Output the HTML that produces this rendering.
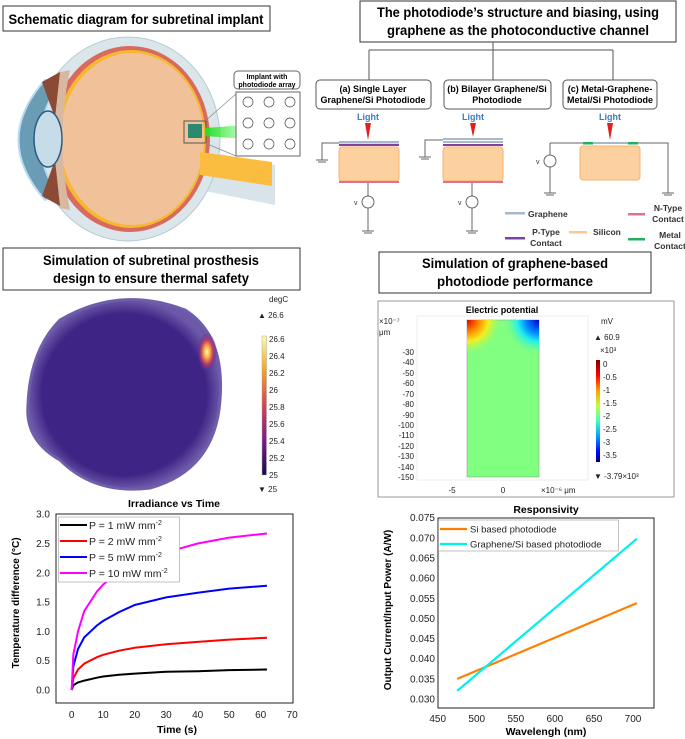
<!DOCTYPE html>
<html><head><meta charset="utf-8"><style>
html,body{margin:0;padding:0;background:#fff;}
svg{display:block;font-family:"Liberation Sans",sans-serif;}
.b{font-weight:bold;}
</style></head><body>
<svg id="fig" width="685" height="739" viewBox="0 0 685 739" xmlns="http://www.w3.org/2000/svg">
<defs>
<radialGradient id="hot" cx="0.5" cy="0.5" r="0.5"><stop offset="0" stop-color="#fff7c0"/><stop offset="0.3" stop-color="#f5b040"/><stop offset="0.6" stop-color="#c03a6a"/><stop offset="1" stop-color="#4a2a8a" stop-opacity="0"/></radialGradient>
<radialGradient id="blob" cx="0.5" cy="0.5" r="0.5"><stop offset="0.85" stop-color="#3e2485"/><stop offset="1" stop-color="#6b58a8"/></radialGradient>
<radialGradient id="redc" cx="0" cy="0" r="1"><stop offset="0" stop-color="#e00000"/><stop offset="0.35" stop-color="#ff9000"/><stop offset="0.6" stop-color="#f0f020"/><stop offset="1" stop-color="#80ff80" stop-opacity="0"/></radialGradient>
<radialGradient id="bluec" cx="1" cy="0" r="1"><stop offset="0" stop-color="#0000c8"/><stop offset="0.35" stop-color="#0080ff"/><stop offset="0.6" stop-color="#20f0f0"/><stop offset="1" stop-color="#80ff80" stop-opacity="0"/></radialGradient>
<linearGradient id="jet" x1="0" y1="0" x2="0" y2="1"><stop offset="0" stop-color="#800000"/><stop offset="0.15" stop-color="#ff0000"/><stop offset="0.3" stop-color="#ffa000"/><stop offset="0.45" stop-color="#c0ff40"/><stop offset="0.6" stop-color="#40ffc0"/><stop offset="0.75" stop-color="#00a0ff"/><stop offset="0.9" stop-color="#0000ff"/><stop offset="1" stop-color="#000080"/></linearGradient>
<linearGradient id="inferno" x1="0" y1="0" x2="0" y2="1"><stop offset="0" stop-color="#fcffa4"/><stop offset="0.25" stop-color="#f5a020"/><stop offset="0.5" stop-color="#d64050"/><stop offset="0.75" stop-color="#7a1c8a"/><stop offset="1" stop-color="#1a0a4a"/></linearGradient>
<linearGradient id="beam" x1="0" y1="0" x2="1" y2="0"><stop offset="0" stop-color="#20e020"/><stop offset="1" stop-color="#80ff80" stop-opacity="0.2"/></linearGradient>
</defs>

<!-- Panel 1: eye schematic -->
<g>
<rect x="3" y="6" width="267" height="25" fill="#fff" stroke="#333"/>
<text x="136" y="24" text-anchor="middle" font-size="14" class="b" textLength="255" lengthAdjust="spacingAndGlyphs">Schematic diagram for subretinal implant</text>
<path d="M200,150 L275,165 L275,205 L200,190 Z" fill="#d8e4ea"/>
<ellipse cx="128" cy="139" rx="92" ry="102" fill="#dbe6ea" stroke="#b8cad2"/>
<path d="M45,80 Q-8,140 45,200 L58,195 Q22,140 58,86 Z" fill="#6a9cb5" stroke="#b8dcef" stroke-width="2"/>
<ellipse cx="130" cy="139" rx="80" ry="93" fill="#d96a5e"/>
<ellipse cx="131" cy="139" rx="75" ry="89" fill="#f5b830"/>
<ellipse cx="132" cy="139" rx="72" ry="86" fill="#f1c29a"/>
<path d="M70,70 Q55,140 70,210 L60,208 Q45,140 60,72 Z" fill="#d8b8a0"/>
<path d="M42,82 L60,72 L55,118 Z M42,196 L60,206 L55,160 Z" fill="#8a4a35"/>
<ellipse cx="48" cy="139" rx="14" ry="28" fill="#c6dce8" stroke="#2e5a80" stroke-width="1.5"/>
<path d="M200,152 L272,162 L272,186 L200,175 Z" fill="#fbbd40"/>
<rect x="184" y="121" width="22" height="22" fill="none" stroke="#555"/>
<rect x="188" y="124" width="14" height="14" fill="#2a8a70"/>
<polygon points="205,128 258,124 258,140 205,136" fill="url(#beam)"/>
<line x1="205" y1="121" x2="236" y2="94" stroke="#888" stroke-width="0.7"/><line x1="205" y1="143" x2="236" y2="156" stroke="#888" stroke-width="0.7"/>
<rect x="236" y="92" width="64" height="64" fill="#fff" stroke="#666"/>
<rect x="234" y="71" width="66" height="18" rx="4" fill="#fff" stroke="#666"/>
<text x="267" y="79" text-anchor="middle" font-size="7" class="b">Implant with</text>
<text x="267" y="87" text-anchor="middle" font-size="7" class="b">photodiode array</text>
<g fill="none" stroke="#444" stroke-width="0.7">
<circle cx="248" cy="102" r="5"/><circle cx="269" cy="102" r="5"/><circle cx="290" cy="102" r="5"/>
<circle cx="248" cy="123" r="5"/><circle cx="269" cy="123" r="5"/><circle cx="290" cy="123" r="5"/>
<circle cx="248" cy="144" r="5"/><circle cx="269" cy="144" r="5"/><circle cx="290" cy="144" r="5"/>
</g>
</g>

<!-- Panel 2: photodiode structures -->
<g>
<rect x="360" y="1" width="316" height="41" fill="#fff" stroke="#333"/>
<text x="518" y="17" text-anchor="middle" font-size="14" class="b" textLength="282" lengthAdjust="spacingAndGlyphs">The photodiode’s structure and biasing, using</text>
<text x="518" y="35" text-anchor="middle" font-size="14" class="b" textLength="262" lengthAdjust="spacingAndGlyphs">graphene as the photoconductive channel</text>
<path d="M493,42 V50 M369,50 H613 M369,50 V80 M493,50 V80 M613,50 V80" stroke="#555" fill="none"/>
<g font-size="9" class="b" text-anchor="middle">
<rect x="316" y="80" width="115" height="29" rx="4" fill="#fff" stroke="#555"/>
<text x="373" y="92">(a) Single Layer</text><text x="373" y="103">Graphene/Si Photodiode</text>
<rect x="444" y="80" width="107" height="29" rx="4" fill="#fff" stroke="#555"/>
<text x="497" y="92">(b) Bilayer Graphene/Si</text><text x="497" y="103">Photodiode</text>
<rect x="563" y="80" width="94" height="29" rx="4" fill="#fff" stroke="#555"/>
<text x="610" y="92">(c) Metal-Graphene-</text><text x="610" y="103">Metal/Si Photodiode</text>
<g fill="#3a7cc0"><text x="368" y="120">Light</text><text x="473" y="120">Light</text><text x="610" y="120">Light</text></g>
</g>
<g fill="#e02020"><polygon points="365,123 371,123 368,140"/><polygon points="470,123 476,123 473,137"/><polygon points="607,123 613,123 610,140"/></g>
<g stroke="#666" fill="none" stroke-width="1">
<path d="M339,143 H322 V160 M316,160 H328 M318,162 H326"/>
<path d="M368,183 V196 M368,208 V231 M362,231 H374 M364,233 H372"/><circle cx="368" cy="202" r="6"/>
<path d="M443,140 H425 V157 M419,157 H431 M421,159 H429"/>
<path d="M472,183 V196 M472,208 V231 M466,231 H478 M468,233 H476"/><circle cx="472" cy="202" r="6"/>
<path d="M550,143 H668 V193 M662,193 H674 M664,195 H672 M550,143 V155 M550,167 V193 M544,193 H556 M546,195 H554"/><circle cx="550" cy="161" r="6"/>
</g>
<g font-size="7" fill="#333"><text x="354" y="205">v</text><text x="458" y="205">v</text><text x="536" y="164">v</text></g>
<rect x="339" y="147" width="60" height="34" rx="3" fill="#fdd0a0" stroke="#f5b070"/>
<rect x="339" y="141" width="60" height="2.5" fill="#a8b8cc"/><rect x="339" y="144" width="60" height="2" fill="#8040a0"/><rect x="339" y="181" width="60" height="2" fill="#e07090"/>
<rect x="443" y="147" width="60" height="34" rx="3" fill="#fdd0a0" stroke="#f5b070"/>
<rect x="443" y="138" width="60" height="2" fill="#a8b8cc"/><rect x="443" y="141" width="60" height="2" fill="#a8b8cc"/><rect x="443" y="144" width="60" height="2" fill="#8040a0"/><rect x="443" y="181" width="60" height="2" fill="#e07090"/>
<rect x="580" y="146" width="60" height="34" rx="3" fill="#fdd0a0" stroke="#f5b070"/>
<rect x="583" y="142" width="51" height="2" fill="#a8b8cc"/><rect x="583" y="142" width="10" height="2.5" fill="#20b060"/><rect x="628" y="142" width="10" height="2.5" fill="#20b060"/>
<g font-size="8.5" class="b" fill="#333">
<rect x="505" y="212" width="20" height="2.5" fill="#a8b8cc"/><text x="528" y="217">Graphene</text>
<rect x="505" y="237" width="20" height="2.5" fill="#8040a0"/><text x="546" y="235" text-anchor="middle">P-Type</text><text x="546" y="246" text-anchor="middle">Contact</text>
<rect x="569" y="231" width="18" height="2.5" fill="#fdc890"/><text x="593" y="235">Silicon</text>
<rect x="628" y="213" width="17" height="2.5" fill="#e07090"/><text x="668" y="211" text-anchor="middle">N-Type</text><text x="668" y="222" text-anchor="middle">Contact</text>
<rect x="628" y="238" width="17" height="2.5" fill="#20b060"/><text x="670" y="238" text-anchor="middle">Metal</text><text x="670" y="249" text-anchor="middle">Contact</text>
</g>
</g>

<!-- Panel 3: thermal simulation -->
<g>
<rect x="3" y="248" width="297" height="42" fill="#fff" stroke="#333"/>
<text x="151" y="265" text-anchor="middle" font-size="13.5" class="b" textLength="216" lengthAdjust="spacingAndGlyphs">Simulation of subretinal prosthesis</text>
<text x="151" y="283" text-anchor="middle" font-size="13.5" class="b" textLength="196" lengthAdjust="spacingAndGlyphs">design to ensure thermal safety</text>
<path d="M60,320 Q120,285 185,310 Q225,335 220,400 Q215,470 150,488 Q95,495 60,460 Q25,440 28,405 Q30,350 60,320 Z" fill="url(#blob)" stroke="#6f5eaa" stroke-width="3"/>
<ellipse cx="207" cy="352" rx="10" ry="20" fill="url(#hot)"/>
<rect x="262" y="336" width="4.5" height="139" fill="url(#inferno)" stroke="#aaa" stroke-width="0.5"/>
<g font-size="8" fill="#222">
<text x="269" y="302">degC</text><text x="258" y="318">▲ 26.6</text>
<text x="269" y="342">26.6</text><text x="269" y="359">26.4</text><text x="269" y="376">26.2</text><text x="269" y="393">26</text><text x="269" y="410">25.8</text><text x="269" y="427">25.6</text><text x="269" y="444">25.4</text><text x="269" y="461">25.2</text><text x="269" y="478">25</text>
<text x="258" y="492">▼ 25</text></g>
</g>

<!-- Panel 4: electric potential -->
<g>
<rect x="379" y="252" width="272" height="41" fill="#fff" stroke="#333"/>
<text x="515" y="268" text-anchor="middle" font-size="13.5" class="b" textLength="186" lengthAdjust="spacingAndGlyphs">Simulation of graphene-based</text>
<text x="515" y="286" text-anchor="middle" font-size="13.5" class="b" textLength="156" lengthAdjust="spacingAndGlyphs">photodiode performance</text>
<rect x="378" y="301" width="296" height="196" fill="#fff" stroke="#999"/>
<text x="502" y="313" text-anchor="middle" font-size="9" class="b">Electric potential</text>
<rect x="417" y="316" width="171" height="164" fill="#fff" stroke="#ddd" stroke-width="0.5"/>
<rect x="467" y="320" width="72" height="157" fill="#80ff80" stroke="#888" stroke-width="0.5"/>
<rect x="467" y="320" width="36" height="36" fill="url(#redc)"/>
<rect x="503" y="320" width="36" height="36" fill="url(#bluec)"/>
<g font-size="8" fill="#222" text-anchor="end">
<text x="414" y="355">-30</text><text x="414" y="365">-40</text><text x="414" y="376">-50</text><text x="414" y="386">-60</text><text x="414" y="397">-70</text><text x="414" y="407">-80</text><text x="414" y="418">-90</text><text x="414" y="428">-100</text><text x="414" y="438">-110</text><text x="414" y="449">-120</text><text x="414" y="459">-130</text><text x="414" y="470">-140</text><text x="414" y="480">-150</text></g>
<g font-size="8" fill="#222"><text x="379" y="324">×10⁻⁷</text><text x="379" y="335">μm</text>
<text x="452" y="493" text-anchor="middle">-5</text><text x="503" y="493" text-anchor="middle">0</text><text x="541" y="493">×10⁻⁶ μm</text>
<text x="601" y="324">mV</text><text x="594" y="340">▲ 60.9</text><text x="600" y="353">×10³</text>
<text x="603" y="367">0</text><text x="603" y="380">-0.5</text><text x="603" y="393">-1</text><text x="603" y="406">-1.5</text><text x="603" y="419">-2</text><text x="603" y="432">-2.5</text><text x="603" y="445">-3</text><text x="603" y="458">-3.5</text>
<text x="594" y="479">▼ -3.79×10³</text></g>
<rect x="596" y="360" width="4" height="102" fill="url(#jet)"/>
</g>

<!-- Panel 5: irradiance vs time -->
<g id="chart1">
<text x="174" y="507" text-anchor="middle" font-size="10.5" class="b">Irradiance vs Time</text>
<rect x="56" y="514" width="237" height="189" fill="#fff" stroke="#222"/>
<text transform="translate(19,603) rotate(-90)" text-anchor="middle" font-size="10" class="b">Temperature difference (°C)</text>
<text x="177" y="733" text-anchor="middle" font-size="10.5" class="b">Time (s)</text>
</g>

<!-- Panel 6: responsivity -->
<g id="chart2">
<text x="546" y="513" text-anchor="middle" font-size="10.5" class="b">Responsivity</text>
<rect x="438" y="518" width="216" height="190" fill="#fff" stroke="#222"/>
<text transform="translate(391,610) rotate(-90)" text-anchor="middle" font-size="10" class="b">Output Current/Input Power (A/W)</text>
<text x="546" y="735" text-anchor="middle" font-size="10.5" class="b">Wavelengh (nm)</text>
</g>
</svg>
<script>
// ---- Chart 1 data ----
const timeS = [0, 0.5, 2, 4, 8, 10, 15, 20, 30, 40, 50, 62];
const p1 = [0, 0.08, 0.13, 0.16, 0.21, 0.23, 0.26, 0.28, 0.31, 0.32, 0.34, 0.35];
const p2 = [0, 0.2, 0.35, 0.45, 0.56, 0.6, 0.67, 0.72, 0.78, 0.82, 0.86, 0.89];
const p5 = [0, 0.4, 0.7, 0.9, 1.1, 1.18, 1.33, 1.45, 1.58, 1.66, 1.73, 1.78];
const p10 = [0, 0.6, 1.0, 1.35, 1.68, 1.8, 2.0, 2.15, 2.35, 2.5, 2.6, 2.67];
const seriesLabels1 = ["P = 1 mW mm", "P = 2 mW mm", "P = 5 mW mm", "P = 10 mW mm"];
const xTicks1 = [0, 10, 20, 30, 40, 50, 60, 70];
const yTicks1 = [0.0, 0.5, 1.0, 1.5, 2.0, 2.5, 3.0];
// ---- Chart 2 data ----
const wavelength = [475, 705];
const siResp = [0.035, 0.0538];
const grResp = [0.032, 0.0698];
const seriesLabels2 = ["Si based photodiode", "Graphene/Si based photodiode"];
const xTicks2 = [450, 500, 550, 600, 650, 700];
const yTicks2 = [0.030, 0.035, 0.040, 0.045, 0.050, 0.055, 0.060, 0.065, 0.070, 0.075];

const NS = "http://www.w3.org/2000/svg";
function mk(parent, tag, attrs, txt) {
  const e = document.createElementNS(NS, tag);
  for (const k in attrs) e.setAttribute(k, attrs[k]);
  if (txt !== undefined) e.textContent = txt;
  parent.appendChild(e);
  return e;
}
const x1 = t => 71.7 + t * 3.15;
const y1 = v => 690 - v * 58.6;
const c1 = document.getElementById("chart1");
xTicks1.forEach(t => {
  const tl = mk(c1, "text", {x: x1(t), y: 718, "text-anchor": "middle", "font-size": 10, fill: "#222"}, String(t));
  
  
});
yTicks1.forEach(v => {
  const tl = mk(c1, "text", {x: 50, y: y1(v) + 3.5, "text-anchor": "end", "font-size": 10, fill: "#222"}, v.toFixed(1));
  
  
});
const cols1 = ["#000000", "#ff0000", "#0000ff", "#ff00ff"];
const data1 = [p1, p2, p5, p10];
data1.forEach((s, i) => {
  const d = s.map((v, j) => (j ? "L" : "M") + x1(timeS[j]).toFixed(1) + "," + y1(v).toFixed(1)).join(" ");
  const ln = mk(c1, "path", {d: d, fill: "none", stroke: cols1[i], "stroke-width": 2});
  
  
});
const lg1 = mk(c1, "g", {});


mk(lg1, "rect", {x: 58.5, y: 517, width: 121, height: 65, fill: "#fff", stroke: "#aaa", "stroke-width": 0.7});
seriesLabels1.forEach((lab, i) => {
  const yy = 525 + i * 16;
  mk(lg1, "line", {x1: 60, y1: yy, x2: 87, y2: yy, stroke: cols1[i], "stroke-width": 2});
  const t = mk(lg1, "text", {x: 89, y: yy + 4, "font-size": 10.5, fill: "#222"}, lab);
  mk(t, "tspan", {dy: -4, "font-size": 7}, "-2");
  
  
});
const x2 = w => 437.7 + (w - 450) * 0.7812;
const y2 = v => 699 - (v - 0.030) * 4028;
const c2 = document.getElementById("chart2");
xTicks2.forEach(t => {
  const tl = mk(c2, "text", {x: x2(t), y: 722, "text-anchor": "middle", "font-size": 10, fill: "#222"}, String(t));
  
  
});
yTicks2.forEach(v => {
  const tl = mk(c2, "text", {x: 435, y: y2(v) + 3.5, "text-anchor": "end", "font-size": 10, fill: "#222"}, v.toFixed(3));
  
  
});
const cols2 = ["#ff8000", "#00f0f0"];
[siResp, grResp].forEach((s, i) => {
  const d = s.map((v, j) => (j ? "L" : "M") + x2(wavelength[j]).toFixed(1) + "," + y2(v).toFixed(1)).join(" ");
  const ln = mk(c2, "path", {d: d, fill: "none", stroke: cols2[i], "stroke-width": 2.2});
  
  
});
const lg2 = mk(c2, "g", {});


mk(lg2, "rect", {x: 438.5, y: 520, width: 180, height: 31, fill: "#fff", stroke: "#aaa", "stroke-width": 0.7});
seriesLabels2.forEach((lab, i) => {
  const yy = 529 + i * 15;
  mk(lg2, "line", {x1: 440, y1: yy, x2: 467, y2: yy, stroke: cols2[i], "stroke-width": 2.2});
  const t = mk(lg2, "text", {x: 470, y: yy + 3.5, "font-size": 9.5, fill: "#222"}, lab);
  
  
});
</script>
</body></html>
